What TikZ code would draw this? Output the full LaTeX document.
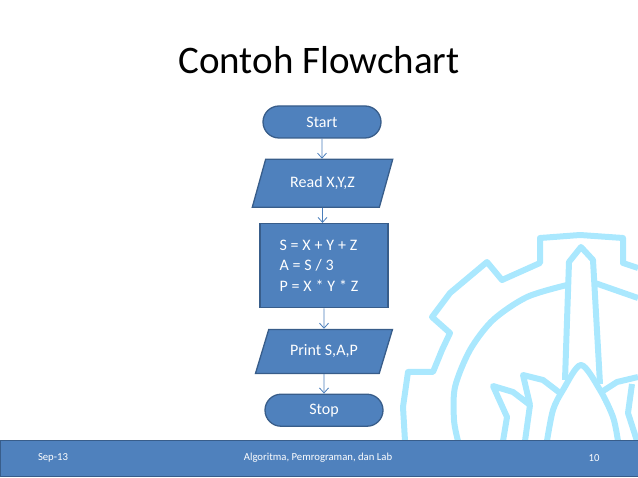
\documentclass[tikz,border=0pt]{standalone}
\usepackage{fontspec}
\setmainfont{Carlito}
\usetikzlibrary{arrows.meta,positioning,shapes.geometric,shapes.misc}
\definecolor{SlideBlue}{RGB}{79,129,189}
\definecolor{EdgeBlue}{RGB}{56,93,138}
\definecolor{ArrowBlue}{RGB}{74,126,187}
\definecolor{LogoBlue}{RGB}{170,232,254}
\tikzset{
  terminal/.style={draw=EdgeBlue,line width=1.3pt,fill=SlideBlue,text=white,rounded rectangle,minimum width=118pt,minimum height=32pt,font=\fontsize{16}{19}\selectfont,inner sep=0pt},
  process/.style={draw=EdgeBlue,line width=1.3pt,fill=SlideBlue,text=white,minimum width=128pt,minimum height=84pt,text width=89pt,align=flush left,font=\fontsize{16}{20.5}\selectfont,inner sep=0pt,execute at begin node={\spaceskip=0.24em\relax}},
  inout/.style={draw=EdgeBlue,line width=1.3pt,fill=SlideBlue,text=white,trapezium,trapezium left angle=60,trapezium right angle=120,trapezium stretches=true,minimum width=141pt,minimum height=48pt,font=\fontsize{16}{19}\selectfont,inner sep=0pt},
  flow/.style={draw=ArrowBlue,line width=0.8pt,-{Straight Barb[length=5pt,width=9pt]}},
  footer/.style={text=white,font=\fontsize{10.7}{13}\selectfont},
  logo/.style={draw=LogoBlue,line width=6pt,line join=round}
}
\begin{document}
\begin{tikzpicture}[x=1pt,y=-1pt,node distance=20pt]
\useasboundingbox (0,0) rectangle (638,478);
% logo
\draw[logo] (405,441)--(403,407)--(408,372)--(433,372)--(442,350)--(450,333)--(432,317)--(450,293)--(487,262)--(502,280)--(540,263)--(540,238)--(580,235)--(623,238)--(623,263)--(638,268);
\draw[logo,smooth] plot coordinates {(458,441)(454,420)(455,387)(470,350)(493,320)(527,297)(567,285)};
\draw[logo] (595,283)--(638,298);
\draw[logo] (565,380)--(569,262)--(581,247)--(593,260)--(600,384);
\draw[logo,smooth] plot coordinates {(547,441)(553,410)(563,390)(581,365)(600,390)(613,417)(618,441)};
\draw[logo] (503,441)--(507,417)--(493,386)--(513,392)--(530,405)--(525,441);
\draw[logo] (530,405)--(523,375)--(543,380)--(560,393);
\draw[logo] (603,391)--(617,382)--(638,377);
\draw[logo] (632,384)--(628,413)--(637,441);
% title
\node[font=\fontsize{39}{44}\selectfont,text=black] (title) at (319,60) {Contoh Flowchart};
% flowchart
\node[terminal] (start) at (322,122) {Start};
\node[inout,below=of start,xshift=0.5pt] (read) {Read X,Y,Z};
\node[process,below=15pt of read,xshift=1.5pt] (calc) {S = X + Y + Z\\A = S / 3\\P = X * Y * Z};
\node[inout,below=20.5pt of calc,minimum width=138pt,minimum height=44pt,trapezium left angle=58,trapezium right angle=122] (print) {Print S,A,P};
\node[terminal,below=19.5pt of print] (stop) {Stop};
\draw[flow] (start)--(start|-read.north);
\draw[flow] (read)--(read|-calc.north);
\draw[flow] (calc)--(print);
\draw[flow] (print)--(stop);
% footer
\node[draw=EdgeBlue,line width=1pt,fill=SlideBlue,minimum width=638pt,minimum height=36pt,inner sep=0pt] (bar) at (319,459) {};
\node[footer] (date) at (53,458) {Sep-13};
\node[footer] (name) at (318,458) {Algoritma, Pemrograman, dan Lab};
\node[footer] (page) at (594,458) {10};
\end{tikzpicture}
\end{document}
